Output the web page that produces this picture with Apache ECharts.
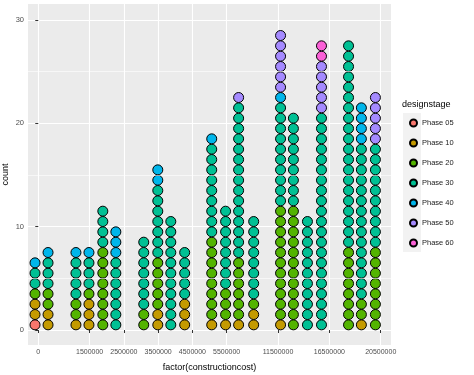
<!DOCTYPE html>
<html>
<head>
<meta charset="utf-8">
<script src="https://cdn.jsdelivr.net/npm/echarts@6/dist/echarts.min.js"></script>
<style>
  html, body { margin: 0; padding: 0; background: #fff; }
  #chart { width: 474px; height: 375px; }
</style>
</head>
<body>
<div id="chart"></div>
<script>
// x positions of the dot stacks, in factor-level units (level 0 = "0")
var binX = [-0.19, 0.57, 2.2, 2.96, 3.77, 4.53, 6.16, 6.98, 7.74, 8.55, 10.13,
  10.94, 11.7, 12.58, 14.15, 14.9, 15.72, 16.54, 18.12, 18.87, 19.69]

// dots per stack for each design stage (bottom to top in this order)
var phases = ['Phase 05', 'Phase 10', 'Phase 20', 'Phase 30', 'Phase 40', 'Phase 50', 'Phase 60']
var phase05 = [1, 0, 0, 0, 0, 0, 0, 0, 0, 0, 0, 0, 0, 0, 0, 0, 0, 0, 0, 0, 0]
var phase10 = [2, 2, 1, 3, 0, 0, 0, 2, 0, 3, 1, 1, 1, 2, 1, 0, 0, 0, 0, 1, 0]
var phase20 = [1, 2, 2, 1, 8, 0, 2, 5, 0, 0, 8, 3, 6, 1, 11, 12, 0, 0, 8, 2, 8]
var phase30 = [2, 3, 4, 3, 4, 7, 7, 7, 11, 5, 9, 8, 15, 8, 10, 9, 11, 21, 20, 15, 10]
var phase40 = [1, 1, 1, 1, 0, 3, 0, 2, 0, 0, 1, 0, 0, 0, 1, 0, 0, 0, 0, 4, 0]
var phase50 = [0, 0, 0, 0, 0, 0, 0, 0, 0, 0, 0, 0, 1, 0, 6, 0, 0, 5, 0, 0, 5]
var phase60 = [0, 0, 0, 0, 0, 0, 0, 0, 0, 0, 0, 0, 0, 0, 0, 0, 0, 2, 0, 0, 0]
var phaseColors = ['#F8766D', '#C49A00', '#53B400', '#00C094', '#00B6EB', '#A58AFF', '#FB61D7']

// x axis breaks (factor level index) and their labels
var tickLevels = [0, 3, 5, 7, 9, 11, 14, 17, 20]
var tickLabels = ['0', '1500000', '2500000', '3500000', '4500000', '5500000',
  '11500000', '16500000', '20500000']
var yTicks = [0, 10, 20, 30]
var yMinor = [5, 15, 25]

var counts = [phase05, phase10, phase20, phase30, phase40, phase50, phase60]
var points = phases.map(function () { return [] })
binX.forEach(function (x, c) {
  var h = 0
  counts.forEach(function (arr, p) {
    for (var i = 0; i < arr[c]; i++) {
      points[p].push([x, h + 0.5])
      h++
    }
  })
})

var font = 'Liberation Sans, Arial, sans-serif'
var series = phases.map(function (name, p) {
  return {
    name: name,
    type: 'scatter',
    data: points[p],
    symbol: 'circle',
    symbolSize: 10,
    itemStyle: { color: phaseColors[p], borderColor: '#000', borderWidth: 1, opacity: 1 },
    emphasis: { disabled: true },
    z: 3
  }
})
// minor horizontal grid lines
series.push({
  type: 'line',
  data: [],
  silent: true,
  z: 1,
  markLine: {
    silent: true,
    symbol: 'none',
    label: { show: false },
    lineStyle: { color: '#fff', width: 0.6, type: 'solid' },
    data: yMinor.map(function (v) { return { yAxis: v } })
  }
})

var option = {
  animation: false,
  textStyle: { fontFamily: font },
  grid: {
    left: 28, top: 4, width: 363, height: 341,
    outerBoundsMode: 'none',
    containLabel: false,
    show: true, backgroundColor: '#EBEBEB', borderWidth: 0
  },
  title: {
    text: 'designstage',
    left: 397, top: 95,
    textStyle: { fontSize: 9, fontWeight: 'normal', color: '#000', fontFamily: font }
  },
  graphic: [{
    type: 'rect',
    shape: { x: 403, y: 113, width: 18, height: 139 },
    style: { fill: '#F2F2F2' },
    z: -1
  }],
  legend: {
    data: phases,
    orient: 'vertical',
    left: 404, top: 113,
    icon: 'circle',
    itemWidth: 7, itemHeight: 7,
    itemGap: 10,
    textStyle: { fontSize: 7.5, color: '#1A1A1A', lineHeight: 10, fontFamily: font },
    selectedMode: false
  },
  xAxis: {
    type: 'value',
    min: -0.6, max: 20.6,
    name: 'factor(constructioncost)',
    nameLocation: 'middle',
    nameGap: 18,
    nameMoveOverlap: false,
    nameTextStyle: { fontSize: 9, color: '#000' },
    axisLine: { show: false },
    axisTick: { show: true, length: 3, customValues: tickLevels, lineStyle: { color: '#333' } },
    axisLabel: {
      customValues: tickLevels,
      fontSize: 7, color: '#4D4D4D', margin: 4,
      formatter: function (v) {
        var i = tickLevels.indexOf(Math.round(v))
        return i >= 0 ? tickLabels[i] : ''
      }
    },
    splitLine: { show: true, lineStyle: { color: '#fff', width: 1.1 } }
  },
  yAxis: {
    type: 'value',
    min: -1.45, max: 31.55,
    name: 'count',
    nameLocation: 'middle',
    nameGap: 18,
    nameMoveOverlap: false,
    nameTextStyle: { fontSize: 9, color: '#000' },
    axisLine: { show: false },
    axisTick: { show: true, length: 3, customValues: yTicks, lineStyle: { color: '#333' } },
    axisLabel: { customValues: yTicks, fontSize: 7.5, color: '#4D4D4D', margin: 4 },
    splitLine: { show: true, lineStyle: { color: '#fff', width: 1.1 } }
  },
  series: series
}

var chart = echarts.init(document.getElementById('chart'), null, { renderer: 'canvas' })
chart.setOption(option)
</script>
</body>
</html>
